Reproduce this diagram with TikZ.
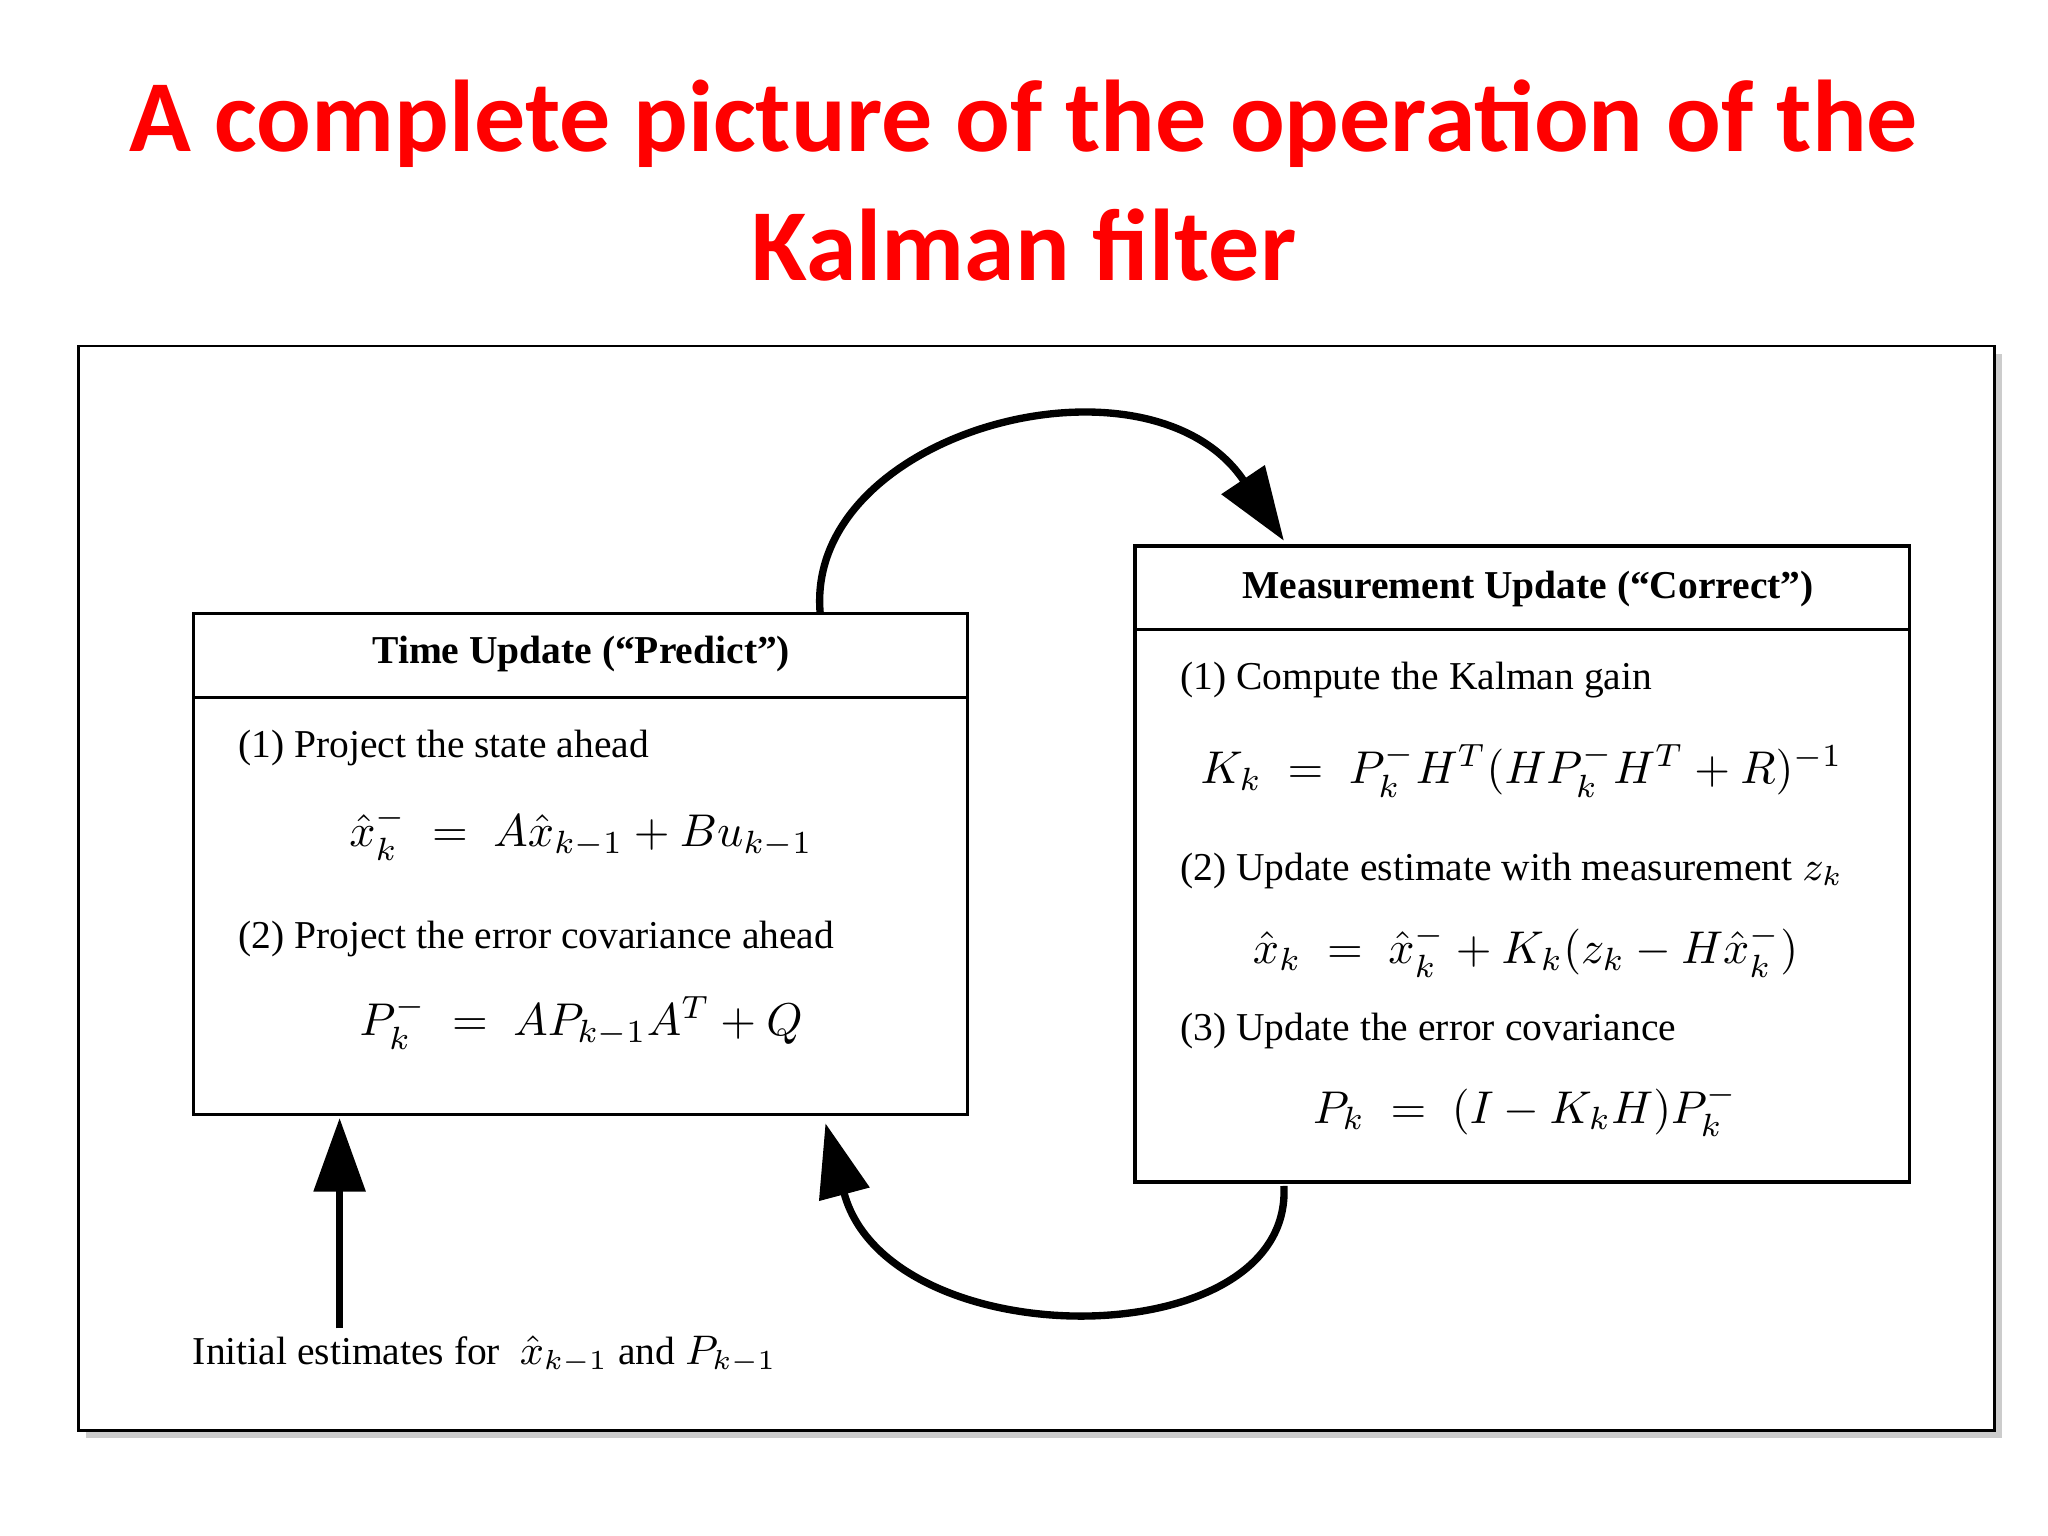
\documentclass[tikz,border=0pt]{standalone}
\usepackage{fontspec}
\setmainfont{Liberation Serif}
\newfontfamily\titlefont{Carlito}
\usetikzlibrary{arrows.meta}
\begin{document}
\begin{tikzpicture}[x=0.01cm,y=-0.01cm,
  box/.style={draw,line width=0.7pt},
  txt/.style={anchor=west,inner sep=0pt,font=\fontsize{8.6}{10}\selectfont},
  eq/.style={anchor=center,inner sep=0pt,font=\fontsize{10.4}{12}\selectfont},
  hd/.style={anchor=center,inner sep=0pt,font=\fontsize{8.6}{10}\selectfont\bfseries},
  bigarr/.style={line width=1.6pt,-{Triangle[length=16pt,width=11pt]}}]
\useasboundingbox (0,0) rectangle (1568,1176);
\node[text=red,font=\titlefont\fontsize{22.2}{28}\selectfont\bfseries,align=center] (title) at (784,138) {A complete picture of the operation of the\\Kalman filter};
\fill[gray!40] (66,271) rectangle (1533,1101);
\draw[fill=white,line width=0.6pt] (60,265) rectangle (1527,1095);
% left box
\draw[box] (148,470) rectangle (741,853);
\draw[box] (148,534) -- (741,534);
\node[hd] (lh) at (445,501) {Time Update (“Predict”)};
\node[txt] (l1) at (182,573) {(1) Project the state ahead};
\node[eq] (le1) at (445,638) {$\hat{x}_k^- \;=\; A\hat{x}_{k-1}+Bu_{k-1}$};
\node[txt] (l2) at (182,719) {(2) Project the error covariance ahead};
\node[eq] (le2) at (445,783) {$P_k^- \;=\; AP_{k-1}A^T+Q$};
% right box
\draw[box] (869,418) rectangle (1462,905);
\draw[box] (869,482) -- (1462,482);
\node[hd] (rh) at (1170,451) {Measurement Update (“Correct”)};
\node[txt] (r1) at (903,521) {(1) Compute the Kalman gain};
\node[eq] (re1) at (1165,590) {$K_k \;=\; P_k^-H^T(HP_k^-H^T+R)^{-1}$};
\node[txt] (r2) at (903,667) {(2) Update estimate with measurement $z_k$};
\node[eq] (re2) at (1168,728) {$\hat{x}_k \;=\; \hat{x}_k^- + K_k(z_k - H\hat{x}_k^-)$};
\node[txt] (r3) at (903,789) {(3) Update the error covariance};
\node[eq] (re3) at (1168,850) {$P_k \;=\; (I-K_kH)P_k^-$};
% initial
\node[txt] (init) at (147,1037) {Initial estimates for \ $\hat{x}_{k-1}$ and $P_{k-1}$};
\coordinate (a1) at (628,470);
\coordinate (a2) at (983,414);
\coordinate (b1) at (983,908);
\coordinate (b2) at (632,860);
\coordinate (c1) at (260,1017);
\coordinate (c2) at (260,856);
\draw[bigarr] (a1) .. controls (615,330) and (880,260) .. (a2);
\draw[bigarr] (b1) .. controls (990,1040) and (680,1040) .. (b2);
\draw[bigarr] (c1) -- (c2);
\end{tikzpicture}
\end{document}
